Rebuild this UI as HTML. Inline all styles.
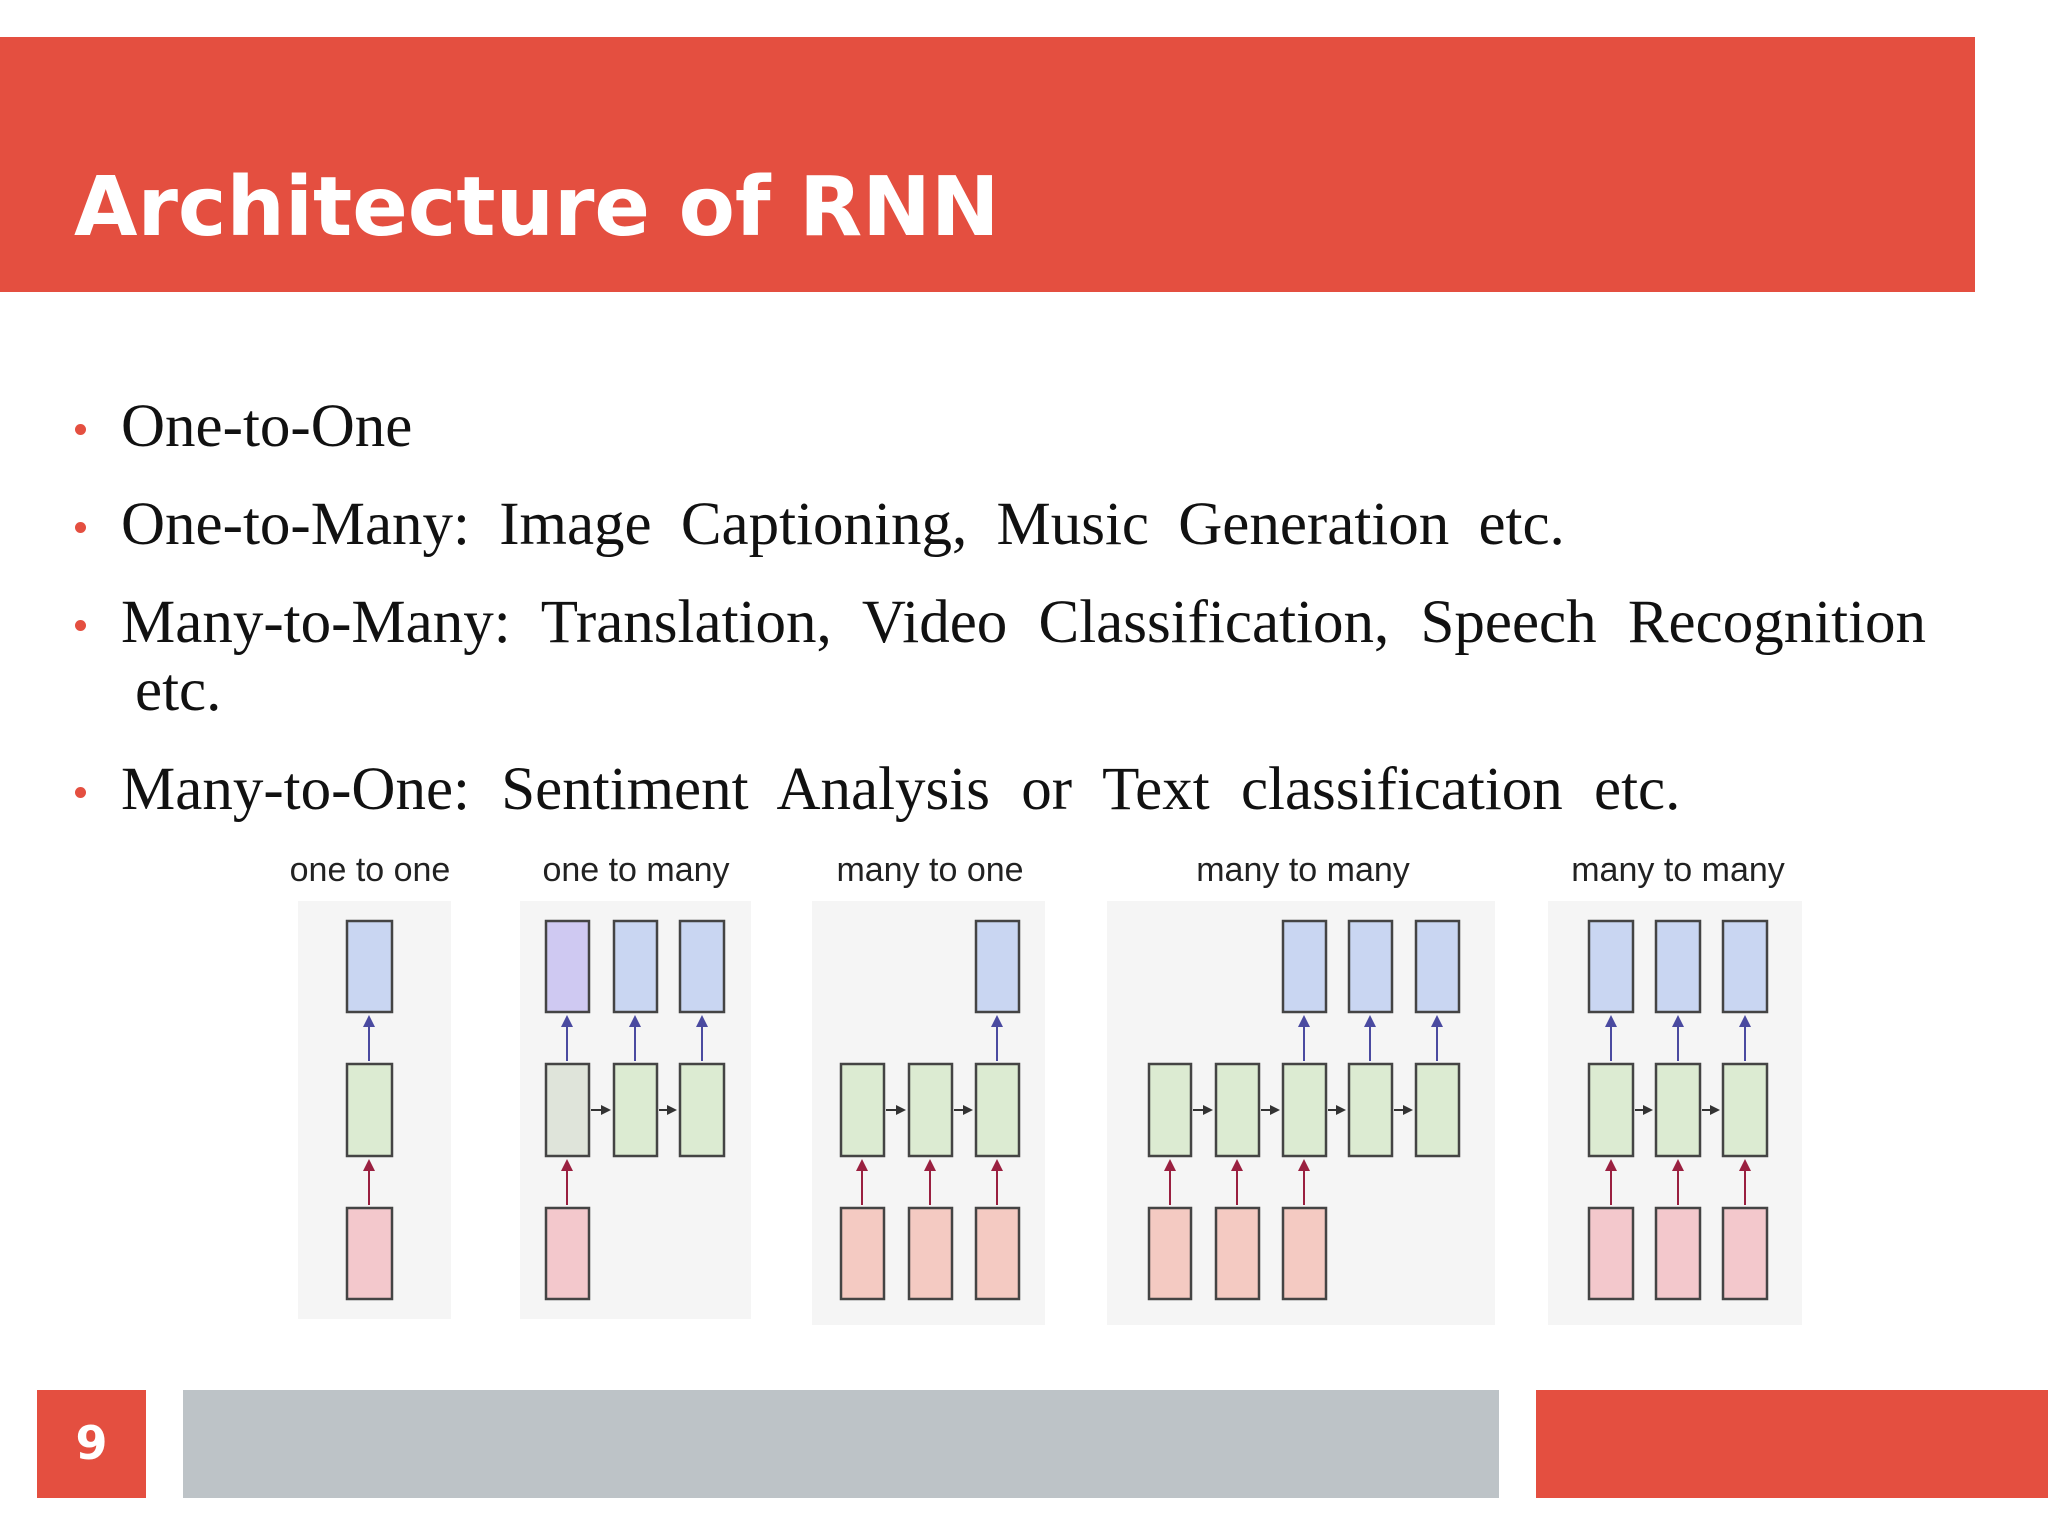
<!DOCTYPE html>
<html><head><meta charset="utf-8"><style>
html,body{margin:0;padding:0}
body{width:2048px;height:1536px;position:relative;background:#fff;overflow:hidden}
.hdr{position:absolute;left:0;top:37px;width:1975px;height:255px;background:#E44F40}
.title{position:absolute;left:74px;top:167px;font-family:"DejaVu Sans","Liberation Sans",sans-serif;font-weight:bold;font-size:82px;color:#fff;line-height:1;white-space:nowrap}
.ln{position:absolute;left:121px;font-family:"Liberation Serif","DejaVu Serif",serif;font-size:61px;color:#111;white-space:nowrap;line-height:1}
.dot{position:absolute;left:75px;width:11px;height:11px;border-radius:50%;background:#E44F40}
</style></head><body>
<div class="hdr"></div>
<div class="title">Architecture of RNN</div>

<div class="dot" style="top:424px"></div>
<div class="ln" style="top:396px">One-to-One</div>
<div class="dot" style="top:522px"></div>
<div class="ln" style="top:494px;word-spacing:14px">One-to-Many: Image Captioning, Music Generation etc.</div>
<div class="dot" style="top:620px"></div>
<div class="ln" style="top:592px;word-spacing:16px">Many-to-Many: Translation, Video Classification, Speech Recognition</div>
<div class="ln" style="top:660px;left:135px">etc.</div>
<div class="dot" style="top:787px"></div>
<div class="ln" style="top:759px;word-spacing:16px">Many-to-One: Sentiment Analysis or Text classification etc.</div>

<svg width="2048" height="1536" style="position:absolute;left:0;top:0" xmlns="http://www.w3.org/2000/svg">
<defs>
<marker id="ab" markerWidth="6" markerHeight="6" refX="3" refY="3" orient="auto"><path d="M0,0 L6,3 L0,6 z" fill="#4a4aa0"/></marker>
<marker id="ar" markerWidth="6" markerHeight="6" refX="3" refY="3" orient="auto"><path d="M0,0 L6,3 L0,6 z" fill="#9a2040"/></marker>
<marker id="ad" markerWidth="5" markerHeight="5" refX="3" refY="2.5" orient="auto"><path d="M0,0 L5,2.5 L0,5 z" fill="#333"/></marker>
</defs>
<g font-family="Liberation Sans, sans-serif" font-size="34" fill="#222" text-anchor="middle">
<text x="370" y="881">one to one</text>
<text x="636" y="881">one to many</text>
<text x="930" y="881">many to one</text>
<text x="1303" y="881">many to many</text>
<text x="1678" y="881">many to many</text>
</g>
<g fill="#f5f5f5">
<rect x="298" y="901" width="153" height="418"/>
<rect x="520" y="901" width="231" height="418"/>
<rect x="812" y="901" width="233" height="424"/>
<rect x="1107" y="901" width="388" height="424"/>
<rect x="1548" y="901" width="254" height="424"/>
</g>
<g stroke="#444" stroke-width="2.5">
<g fill="#c9d6f2">
<rect x="347" y="921" width="45" height="91"/>
<rect x="546" y="921" width="43" height="91" fill="#cfc9f2"/>
<rect x="614" y="921" width="43" height="91"/>
<rect x="680" y="921" width="44" height="91"/>
<rect x="976" y="921" width="43" height="91"/>
<rect x="1283" y="921" width="43" height="91"/>
<rect x="1349" y="921" width="43" height="91"/>
<rect x="1416" y="921" width="43" height="91"/>
<rect x="1589" y="921" width="44" height="91"/>
<rect x="1656" y="921" width="44" height="91"/>
<rect x="1723" y="921" width="44" height="91"/>
</g>
<g fill="#dcebd2">
<rect x="347" y="1064" width="45" height="92"/>
<rect x="546" y="1064" width="43" height="92" fill="#dfe4da"/>
<rect x="614" y="1064" width="43" height="92"/>
<rect x="680" y="1064" width="44" height="92"/>
<rect x="841" y="1064" width="43" height="92"/>
<rect x="909" y="1064" width="43" height="92"/>
<rect x="976" y="1064" width="43" height="92"/>
<rect x="1149" y="1064" width="42" height="92"/>
<rect x="1216" y="1064" width="43" height="92"/>
<rect x="1283" y="1064" width="43" height="92"/>
<rect x="1349" y="1064" width="43" height="92"/>
<rect x="1416" y="1064" width="43" height="92"/>
<rect x="1589" y="1064" width="44" height="92"/>
<rect x="1656" y="1064" width="44" height="92"/>
<rect x="1723" y="1064" width="44" height="92"/>
</g>
<g fill="#f3c8cc">
<rect x="347" y="1208" width="45" height="91"/>
<rect x="546" y="1208" width="43" height="91"/>
<rect x="841" y="1208" width="43" height="91" fill="#f4cac2"/>
<rect x="909" y="1208" width="43" height="91" fill="#f4cac2"/>
<rect x="976" y="1208" width="43" height="91" fill="#f4cac2"/>
<rect x="1149" y="1208" width="42" height="91" fill="#f4cac2"/>
<rect x="1216" y="1208" width="43" height="91" fill="#f4cac2"/>
<rect x="1283" y="1208" width="43" height="91" fill="#f4cac2"/>
<rect x="1589" y="1208" width="44" height="91"/>
<rect x="1656" y="1208" width="44" height="91"/>
<rect x="1723" y="1208" width="44" height="91"/>
</g>
</g>
<g stroke="#4a4aa0" stroke-width="2" marker-end="url(#ab)">
<line x1="369" y1="1061" x2="369" y2="1021"/>
<line x1="567" y1="1061" x2="567" y2="1021"/>
<line x1="635" y1="1061" x2="635" y2="1021"/>
<line x1="702" y1="1061" x2="702" y2="1021"/>
<line x1="997" y1="1061" x2="997" y2="1021"/>
<line x1="1304" y1="1061" x2="1304" y2="1021"/>
<line x1="1370" y1="1061" x2="1370" y2="1021"/>
<line x1="1437" y1="1061" x2="1437" y2="1021"/>
<line x1="1611" y1="1061" x2="1611" y2="1021"/>
<line x1="1678" y1="1061" x2="1678" y2="1021"/>
<line x1="1745" y1="1061" x2="1745" y2="1021"/>
</g>
<g stroke="#9a2040" stroke-width="2" marker-end="url(#ar)">
<line x1="369" y1="1205" x2="369" y2="1165"/>
<line x1="567" y1="1205" x2="567" y2="1165"/>
<line x1="862" y1="1205" x2="862" y2="1165"/>
<line x1="930" y1="1205" x2="930" y2="1165"/>
<line x1="997" y1="1205" x2="997" y2="1165"/>
<line x1="1170" y1="1205" x2="1170" y2="1165"/>
<line x1="1237" y1="1205" x2="1237" y2="1165"/>
<line x1="1304" y1="1205" x2="1304" y2="1165"/>
<line x1="1611" y1="1205" x2="1611" y2="1165"/>
<line x1="1678" y1="1205" x2="1678" y2="1165"/>
<line x1="1745" y1="1205" x2="1745" y2="1165"/>
</g>
<g stroke="#333" stroke-width="2" marker-end="url(#ad)">
<line x1="591" y1="1110" x2="607" y2="1110"/>
<line x1="659" y1="1110" x2="673" y2="1110"/>
<line x1="886" y1="1110" x2="902" y2="1110"/>
<line x1="954" y1="1110" x2="969" y2="1110"/>
<line x1="1193" y1="1110" x2="1209" y2="1110"/>
<line x1="1261" y1="1110" x2="1276" y2="1110"/>
<line x1="1328" y1="1110" x2="1342" y2="1110"/>
<line x1="1394" y1="1110" x2="1409" y2="1110"/>
<line x1="1635" y1="1110" x2="1649" y2="1110"/>
<line x1="1702" y1="1110" x2="1716" y2="1110"/>
</g>
</svg>

<div style="position:absolute;left:37px;top:1390px;width:109px;height:108px;background:#E44F40"></div>
<div style="position:absolute;left:37px;top:1420px;width:109px;text-align:center;font-family:'DejaVu Sans','Liberation Sans',sans-serif;font-weight:bold;font-size:46px;color:#fff;line-height:1">9</div>
<div style="position:absolute;left:183px;top:1390px;width:1316px;height:108px;background:#BDC3C7"></div>
<div style="position:absolute;left:1536px;top:1390px;width:512px;height:108px;background:#E44F40"></div>
</body></html>
